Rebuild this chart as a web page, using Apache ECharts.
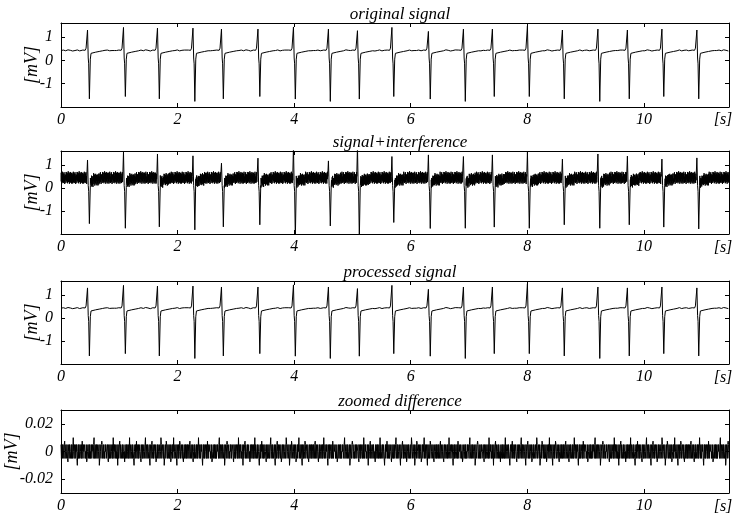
<!DOCTYPE html>
<html>
<head>
<meta charset="utf-8">
<script src="https://cdn.jsdelivr.net/npm/echarts@6.0.0/dist/echarts.min.js"></script>
<style>
  html, body { margin: 0; padding: 0; background: #fff; }
  #chart { width: 753px; height: 521px; }
</style>
</head>
<body>
<div id="chart"></div>
<script>
// R-peak times [s]
const beatTimes = [0.455, 1.072, 1.655, 2.264, 2.753, 3.379, 3.988, 4.588, 5.086, 5.677,
  6.303, 6.904, 7.401, 8.002, 8.602, 9.211, 9.717, 10.309, 10.909];
// R / S amplitudes of the original (and processed) signal [mV]
const rPeak = [1.30, 1.41, 1.38, 1.38, 1.34, 1.34, 1.43, 1.34, 1.27, 1.41, 1.24, 1.34, 1.34, 1.48, 1.30, 1.34, 1.30, 1.34, 1.30];
const sPeak = [-1.65, -1.55, -1.65, -1.76, -1.65, -1.55, -1.66, -1.76, -1.66, -1.55, -1.66, -1.76, -1.55, -1.55, -1.65, -1.76, -1.65, -1.55, -1.65];
// R / S amplitudes of the signal with interference [mV]
const rPeakNoisy = [1.21, 1.55, 1.47, 1.39, 1.07, 1.29, 1.8, 1.17, 1.8, 1.36, 1.43, 1.36, 1.43, 1.55, 1.25, 1.47, 1.38, 1.25, 1.3];
const sPeakNoisy = [-1.55, -1.75, -1.69, -1.82, -1.69, -1.6, -2.2, -1.65, -2.2, -1.5, -1.76, -1.75, -1.7, -1.75, -1.6, -1.75, -1.6, -1.7, -1.78];
// one beat, offsets from the R peak [s] and levels [mV]; 'R' and 'S' take the per-beat amplitude
const qrsOffsets = [-0.12, -0.08, -0.04, -0.025, -0.012, 0, 0.012, 0.02, 0.032, 0.048, 0.06, 0.09, 0.14, 0.2, 0.26];
const qrsShape = [0.42, 0.44, 0.43, 0.52, 0.48, 'R', 0.1, -0.15, 'S', 0.05, 0.3, 0.33, 0.35, 0.38, 0.41];
// small ripple of the baseline between beats [mV]
const baselineWiggle = [0.0, 0.02, -0.01, 0.03, 0.01, -0.02, 0.0, 0.025, -0.015, 0.01, 0.02, -0.01, 0.0];
// interference values [mV]
const interference = [0.22, -0.16, 0.1, -0.25, 0.17, -0.06, 0.26, -0.2, 0.05, 0.13, -0.23, 0.18, -0.11, 0.24, -0.18, 0.07,
  -0.27, 0.15, 0.21, -0.08, 0.12, -0.22, 0.25, -0.13, 0.02, 0.23, -0.17, 0.08, -0.24, 0.19, -0.04, 0.28, -0.19, 0.11,
  -0.1, 0.22, -0.26, 0.06, 0.17, -0.15, 0.25, -0.21, 0.1, -0.06, 0.2, -0.25, 0.13];
// zoomed difference: 0 -> 0, + -> 0.005, - -> -0.005, a -> 0.0075, b -> -0.0075, ^ -> 0.01, v -> -0.01
const diffPattern = '+-0+-+0-+a-0+-0+-b0+-+0-0+-+-0^0-+0-+0+-v0+-+-0+0-+-a0-+00+-0-+b-0+-0+-+-0-+0+0-+^-0+-0+-+0-0+v-+0-+a+-0+-0-+0+-00+-b+0-+-0+0-+-^0-+0+-0-+0v+-0+a-+0-0+-+0-0b+-0+-+0-+-0^-+0-0+-+0-v0+-+0a-+0-+-0+0-b+0-+-0+-0+^-0+-+0-0+-v+0-+a0-+-0+0-+b-0+-+0-0+-0^+-0+0-+v-0+-a+0-+0-+-0+b-0+-+0^-0+-0+-v+0-+-0a+-0+0-+-b0+-0+-';
const diffLevels = {'0': 0, '+': 0.005, '-': -0.005, 'a': 0.0075, 'b': -0.0075, '^': 0.01, 'v': -0.01};

const xTicks = [0, 2, 4, 6, 8, 10];
const yTicks = [-1, 0, 1];
const yTicksDiff = [-0.02, 0, 0.02];
const titles = ['original signal', 'signal+interference', 'processed signal', 'zoomed difference'];

const T_END = 11.46;
const BASE = 0.42;

function cleanSignal() {
  const pts = [];
  let t = 0, k = 0;
  beatTimes.forEach((tb, i) => {
    while (t < tb + qrsOffsets[0] - 0.001) {
      pts.push([t, BASE + baselineWiggle[k % baselineWiggle.length]]);
      t += 0.04; k++;
    }
    qrsOffsets.forEach((off, j) => {
      let v = qrsShape[j];
      if (v === 'R') v = rPeak[i];
      if (v === 'S') v = sPeak[i];
      pts.push([tb + off, v]);
    });
    t = tb + 0.3;
  });
  while (t <= T_END) {
    pts.push([t, BASE + baselineWiggle[k % baselineWiggle.length]]);
    t += 0.04; k++;
  }
  return pts;
}

function noisySignal() {
  const pts = [];
  let k = 0;
  for (let n = 0; n * 0.004 <= T_END; n++) {
    const t = n * 0.004;
    let level = 0.44, skip = false;
    beatTimes.forEach(tb => {
      const dt = t - tb;
      if (dt >= -0.012 && dt <= 0.048) skip = true;
      else if (dt > 0.048 && dt < 0.1) level = 0.28;
      else if (dt >= 0.1 && dt < 0.2) level = 0.36;
    });
    if (skip) continue;
    pts.push([t, level + interference[k % interference.length]]);
    k++;
  }
  beatTimes.forEach((tb, i) => {
    pts.push([tb - 0.012, 0.5], [tb, rPeakNoisy[i]], [tb + 0.012, 0.1],
      [tb + 0.02, -0.15], [tb + 0.032, sPeakNoisy[i]], [tb + 0.048, 0.1]);
  });
  pts.sort((a, b) => a[0] - b[0]);
  return pts;
}

function diffSignal() {
  const pts = [];
  for (let n = 0; n * 0.007 <= T_END; n++) {
    pts.push([n * 0.007, diffLevels[diffPattern[n % diffPattern.length]]]);
  }
  return pts;
}

const serif = 'Liberation Serif';
const tops = [23, 151, 281, 410];
const heights = [84, 83, 83, 83];
const labelY = [120, 248, 378, 507];
const yNameX = [32, 32, 32, 12];

let chart = echarts.init(document.getElementById('chart'));

let grid = [], xAxis = [], yAxis = [], series = [], title = [], graphic = [];
const data = [cleanSignal(), noisySignal(), cleanSignal(), diffSignal()];

for (let g = 0; g < 4; g++) {
  grid.push({left: 61, top: tops[g], width: 668, height: heights[g], outerBoundsMode: 'none', containLabel: false});
  const isDiff = g === 3;
  const yt = isDiff ? yTicksDiff : yTicks;
  const axisLine = {show: true, onZero: false, lineStyle: {color: '#000', width: 1}};
  xAxis.push({
    gridIndex: g, type: 'value', min: 0, max: T_END, position: 'bottom',
    axisLine: axisLine, splitLine: {show: false},
    axisTick: {inside: true, length: 4, lineStyle: {color: '#000'}, customValues: xTicks},
    axisLabel: {customValues: xTicks, margin: 5, color: '#000', fontFamily: serif, fontStyle: 'italic', fontSize: 16},
  });
  xAxis.push({
    gridIndex: g, type: 'value', min: 0, max: T_END, position: 'top',
    axisLine: axisLine, splitLine: {show: false},
    axisTick: {inside: true, length: 4, lineStyle: {color: '#000'}, customValues: xTicks},
    axisLabel: {show: false},
  });
  yAxis.push({
    gridIndex: g, type: 'value', min: isDiff ? -0.03 : -2, max: isDiff ? 0.03 : 1.6, position: 'left',
    axisLine: axisLine, splitLine: {show: false},
    axisTick: {inside: true, length: 4, lineStyle: {color: '#000'}, customValues: yt},
    axisLabel: {customValues: yt, margin: 8, color: '#000', fontFamily: serif, fontStyle: 'italic', fontSize: 16},
  });
  yAxis.push({
    gridIndex: g, type: 'value', min: isDiff ? -0.03 : -2, max: isDiff ? 0.03 : 1.6, position: 'right',
    axisLine: axisLine, splitLine: {show: false},
    axisTick: {inside: true, length: 4, lineStyle: {color: '#000'}, customValues: yt},
    axisLabel: {show: false},
  });
  series.push({
    type: 'line', xAxisIndex: g * 2, yAxisIndex: g * 2, data: data[g],
    symbol: 'none', sampling: null, clip: true, progressive: 0,
    lineStyle: {color: '#000', width: 1},
  });
  title.push({
    text: titles[g], left: 395, top: tops[g] - 22, textAlign: 'center',
    textStyle: {color: '#000', fontFamily: serif, fontStyle: 'italic', fontWeight: 'normal', fontSize: 17},
  });
  graphic.push({
    type: 'text', x: 723, y: labelY[g],
    style: {text: '[s]', fill: '#000', font: 'italic 16px "Liberation Serif"', align: 'center', verticalAlign: 'middle'},
  });
  // y axis unit, rotated
  graphic.push({
    type: 'text', x: yNameX[g], y: tops[g] + heights[g] / 2, rotation: Math.PI / 2,
    style: {text: '[mV]', fill: '#000', font: 'italic 18px "Liberation Serif"', align: 'center', verticalAlign: 'middle'},
  });
}

let option = {
  animation: false,
  backgroundColor: '#fff',
  title: title,
  grid: grid,
  xAxis: xAxis,
  yAxis: yAxis,
  series: series,
  graphic: graphic,
};
chart.setOption(option);
</script>
</body>
</html>
